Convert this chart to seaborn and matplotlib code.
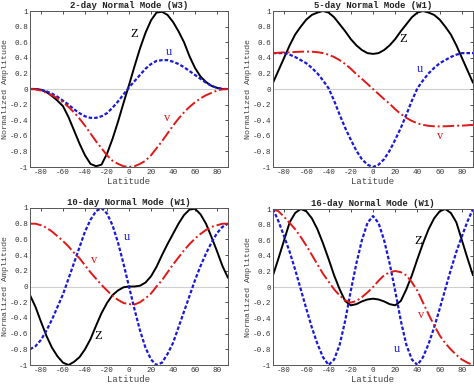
import numpy as np
import pandas as pd
import matplotlib
matplotlib.use("Agg")
import matplotlib.pyplot as plt
import seaborn as sns

# ---------------- data ----------------
LAT = [-90, -85, -80, -75, -70, -65, -60, -55, -50, -45, -40, -35, -30, -25, -20, -15, -10, -5, 0,
       5, 10, 15, 20, 25, 30, 35, 40, 45, 50, 55, 60, 65, 70, 75, 80, 85, 90]

TITLES = ["2-day Normal Mode (W3)", "5-day Normal Mode (W1)",
          "10-day Normal Mode (W1)", "16-day Normal Mode (W1)"]

# 2-day
Z1 = [0.0, 0.0, -0.01, -0.04, -0.09, -0.15, -0.22, -0.36, -0.53, -0.7, -0.85, -0.96, -0.99, -0.97, -0.83, -0.64, -0.42, -0.18, 0.05,
      0.29, 0.52, 0.72, 0.88, 0.98, 0.99, 0.95, 0.86, 0.74, 0.6, 0.42, 0.27, 0.16, 0.09, 0.04, 0.015, 0.0, 0.0]
U1 = [0.0, 0.0, -0.01, -0.03, -0.06, -0.1, -0.15, -0.2, -0.26, -0.31, -0.35, -0.37, -0.37, -0.35, -0.31, -0.24, -0.16, -0.07, 0.02,
      0.1, 0.18, 0.26, 0.32, 0.36, 0.37, 0.37, 0.35, 0.32, 0.28, 0.23, 0.18, 0.13, 0.08, 0.04, 0.015, 0.0, 0.0]
V1 = [0.0, -0.005, -0.02, -0.05, -0.08, -0.12, -0.17, -0.23, -0.3, -0.38, -0.47, -0.57, -0.67, -0.76, -0.85, -0.92, -0.96, -0.99, -1.0,
      -0.99, -0.96, -0.92, -0.85, -0.76, -0.67, -0.57, -0.47, -0.38, -0.3, -0.23, -0.17, -0.12, -0.08, -0.05, -0.02, -0.005, 0.0]

# 5-day
Z2 = [0.08, 0.24, 0.4, 0.56, 0.7, 0.8, 0.89, 0.95, 0.98, 1.0, 0.98, 0.92, 0.83, 0.74, 0.64, 0.56, 0.5, 0.46, 0.45,
      0.46, 0.5, 0.56, 0.64, 0.74, 0.83, 0.92, 0.98, 1.0, 0.98, 0.95, 0.89, 0.8, 0.7, 0.56, 0.4, 0.24, 0.08]
U2 = [0.46, 0.46, 0.46, 0.44, 0.41, 0.37, 0.33, 0.27, 0.2, 0.11, 0.01, -0.15, -0.33, -0.5, -0.65, -0.79, -0.9, -0.97, -1.0,
      -0.97, -0.9, -0.79, -0.65, -0.5, -0.33, -0.15, 0.01, 0.11, 0.2, 0.27, 0.33, 0.37, 0.41, 0.44, 0.46, 0.46, 0.46]
V2 = [0.46, 0.465, 0.47, 0.47, 0.475, 0.478, 0.48, 0.478, 0.472, 0.46, 0.44, 0.41, 0.37, 0.32, 0.26, 0.19, 0.13, 0.065, 0.0,
      -0.065, -0.13, -0.19, -0.26, -0.32, -0.37, -0.41, -0.44, -0.46, -0.472, -0.478, -0.48, -0.478, -0.475, -0.47, -0.47, -0.465, -0.46]

# 10-day
Z3 = [-0.11, -0.26, -0.45, -0.63, -0.78, -0.89, -0.97, -1.0, -0.96, -0.9, -0.8, -0.67, -0.5, -0.34, -0.21, -0.11, -0.05, -0.01, 0.0,
      0.0, 0.01, 0.05, 0.13, 0.25, 0.4, 0.54, 0.67, 0.8, 0.91, 0.98, 0.99, 0.92, 0.8, 0.63, 0.45, 0.26, 0.11]
U3 = [-0.8, -0.76, -0.68, -0.56, -0.42, -0.26, -0.1, 0.1, 0.3, 0.5, 0.7, 0.85, 0.96, 1.0, 0.93, 0.78, 0.56, 0.29, 0.0,
      -0.29, -0.56, -0.78, -0.93, -1.0, -0.97, -0.86, -0.72, -0.52, -0.32, -0.12, 0.08, 0.26, 0.42, 0.56, 0.68, 0.76, 0.8]
V3 = [0.8, 0.8, 0.78, 0.75, 0.7, 0.64, 0.58, 0.51, 0.43, 0.36, 0.27, 0.18, 0.1, 0.02, -0.05, -0.12, -0.17, -0.21, -0.225,
      -0.23, -0.2, -0.15, -0.09, 0.0, 0.08, 0.18, 0.28, 0.37, 0.46, 0.54, 0.61, 0.67, 0.72, 0.76, 0.78, 0.8, 0.8]

# 16-day
Z4 = [0.15, 0.37, 0.6, 0.83, 0.95, 1.0, 0.97, 0.88, 0.74, 0.56, 0.36, 0.15, -0.03, -0.18, -0.235, -0.22, -0.185, -0.16, -0.15,
      -0.16, -0.185, -0.22, -0.235, -0.18, -0.03, 0.15, 0.36, 0.56, 0.74, 0.88, 0.97, 1.0, 0.95, 0.83, 0.6, 0.37, 0.15]
U4 = [1.0, 0.84, 0.65, 0.45, 0.22, -0.03, -0.28, -0.52, -0.73, -0.9, -1.0, -0.93, -0.74, -0.43, -0.05, 0.3, 0.6, 0.82, 0.91,
      0.82, 0.6, 0.3, -0.05, -0.43, -0.74, -0.93, -1.0, -0.9, -0.73, -0.52, -0.28, -0.03, 0.22, 0.45, 0.65, 0.84, 1.0]
V4 = [1.0, 0.97, 0.9, 0.82, 0.74, 0.64, 0.53, 0.41, 0.29, 0.17, 0.07, -0.03, -0.11, -0.17, -0.2, -0.18, -0.13, -0.07, 0.0,
      0.08, 0.15, 0.19, 0.205, 0.19, 0.15, 0.06, -0.05, -0.2, -0.35, -0.49, -0.62, -0.72, -0.8, -0.87, -0.93, -0.97, -1.0]

XTICKS = [-80, -60, -40, -20, 0, 20, 40, 60, 80]
YTICKS = [-1, -0.8, -0.6, -0.4, -0.2, 0, 0.2, 0.4, 0.6, 0.8, 1]
YTICKLABELS = ["-1", "-0.8", "-0.6", "-0.4", "-0.2", "0", "0.2", "0.4", "0.6", "0.8", "1"]

PANELS = [(Z1, U1, V1), (Z2, U2, V2), (Z3, U3, V3), (Z4, U4, V4)]
# label positions (lat, amplitude) for Z, u, v
LABELPOS = [
    [(5, 0.71), (36, 0.47), (35, -0.37)],
    [(27, 0.64), (42, 0.26), (60, -0.6)],
    [(-28, -0.63), (-2, 0.63), (-32, 0.34)],
    [(41, 0.59), (22, -0.79), (43, -0.36)],
]

# ---------------- style ----------------
sns.set_theme(style="white")
plt.rcParams["font.family"] = ["Liberation Mono", "DejaVu Sans Mono"]

fig = plt.figure(figsize=(4.74, 3.84), dpi=100)
rects = [
    [30 / 474, 1 - 167 / 384, 198 / 474, 156 / 384],
    [273 / 474, 1 - 167 / 384, 200 / 474, 156 / 384],
    [30 / 474, 1 - 365 / 384, 198 / 474, 157 / 384],
    [273 / 474, 1 - 365 / 384, 200 / 474, 156 / 384],
]

BLACK = "#000000"
BLUE = "#1a1ad6"
RED = "#e01818"

for i, (rect, (z, u, v)) in enumerate(zip(rects, PANELS)):
    ax = fig.add_axes(rect)
    ax.axhline(0, color="#cfcfcf", lw=0.8, zorder=0)
    sns.lineplot(x=LAT, y=z, ax=ax, color=BLACK, lw=1.4, linestyle="-")
    sns.lineplot(x=LAT, y=u, ax=ax, color=BLUE, lw=1.6, linestyle=(0, (1.6, 0.9)))
    sns.lineplot(x=LAT, y=v, ax=ax, color=RED, lw=1.4, linestyle=(0, (6, 1.5, 1, 1.5)))
    ax.set_xlim(-90, 90)
    ax.set_ylim(-1, 1)
    ax.set_xticks(XTICKS)
    ax.set_xticklabels([str(t) for t in XTICKS])
    ax.set_yticks(YTICKS)
    ax.set_yticklabels(YTICKLABELS)
    ax.tick_params(direction="in", length=2.5, width=0.6, labelsize=5.5,
                   colors="#333333", top=True, right=True, pad=1.5)
    for s in ax.spines.values():
        s.set_color("#555555")
        s.set_linewidth(0.7)
    ax.set_title(TITLES[i], fontsize=6.5, fontweight="bold", pad=2, color="#222222")
    ax.set_xlabel("Latitude", fontsize=6.5, color="#444444", labelpad=1)
    ax.set_ylabel("Normalized Amplitude", fontsize=6.0, color="#444444", labelpad=0.5)
    for (name, col), (lx, ly) in zip([("Z", BLACK), ("u", BLUE), ("v", RED)], LABELPOS[i]):
        ax.text(lx, ly, name, color=col, fontsize=9, ha="center", va="center",
                family=["Liberation Serif", "DejaVu Serif"])

fig.savefig("out.png", dpi=100)
